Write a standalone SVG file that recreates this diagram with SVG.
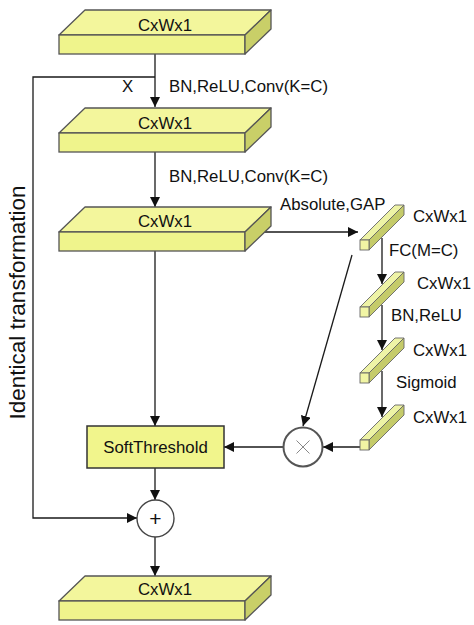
<svg xmlns="http://www.w3.org/2000/svg" width="474" height="625" viewBox="0 0 474 625">
<style>
text{font-family:"Liberation Sans",Arial,sans-serif;fill:#111;font-size:16.8px}
.mid{text-anchor:middle}
.top{fill:#f3f69c;stroke:#555;stroke-width:1.3;stroke-linejoin:round}
.front{fill:#eff48c;stroke:#555;stroke-width:1.3}
.side{fill:#c9cf68;stroke:#555;stroke-width:1.3;stroke-linejoin:round}
.btop{fill:#eef3a6;stroke:#666;stroke-width:0.9;stroke-linejoin:round}
.bfront{fill:#f1f5a4;stroke:#666;stroke-width:0.9}
.bside{fill:#c5cb6a;stroke:#666;stroke-width:0.9;stroke-linejoin:round}
.ln{fill:none;stroke:#1a1a1a;stroke-width:1.3}
.arr{marker-end:url(#ah)}
</style>
<defs>
<marker id="ah" markerUnits="userSpaceOnUse" markerWidth="11" markerHeight="10" refX="10" refY="5" orient="auto">
<path d="M0,0 L10,5 L0,10 z" fill="#111"/>
</marker>
<g id="blk">
<polygon class="top" points="59,25 85,0 271,0 245,25"/>
<rect class="front" x="59" y="25" width="186" height="19"/>
<polygon class="side" points="245,25 271,0 271,19 245,44"/>
</g>
<g id="bar">
<polygon class="btop" points="360,0 395,-35 404,-35 369,0"/>
<polygon class="bside" points="369,0 404,-35 404,-25 369,10"/>
<rect class="bfront" x="360" y="0" width="9" height="10"/>
</g>
</defs>
<rect width="474" height="625" fill="#fff"/>

<g id="connectors">
<line class="ln arr" x1="155" y1="54" x2="155" y2="107"/>
<polyline class="ln arr" points="155,77 33,77 33,518 137,518"/>
<line class="ln arr" x1="155" y1="152" x2="155" y2="207"/>
<line class="ln arr" x1="155" y1="251" x2="155" y2="426"/>
<line class="ln arr" x1="264" y1="232" x2="358" y2="232"/>
<line class="ln arr" x1="382" y1="238" x2="382" y2="284"/>
<line class="ln arr" x1="382" y1="305" x2="382" y2="350"/>
<line class="ln arr" x1="382" y1="371" x2="382" y2="417"/>
<line class="ln arr" x1="352" y1="255" x2="303" y2="426"/>
<line class="ln arr" x1="360" y1="447" x2="323" y2="447"/>
<line class="ln arr" x1="283" y1="447" x2="224" y2="447"/>
<line class="ln arr" x1="155" y1="468" x2="155" y2="500"/>
<line class="ln arr" x1="155" y1="537" x2="155" y2="576"/>
</g>

<g id="block1"><use href="#blk" transform="translate(0,10)"/><text class="mid" x="165" y="31">CxWx1</text></g>
<g id="block2"><use href="#blk" transform="translate(0,108)"/><text class="mid" x="165" y="129">CxWx1</text></g>
<g id="block3"><use href="#blk" transform="translate(0,207)"/><text class="mid" x="165" y="227">CxWx1</text></g>
<g id="block4"><use href="#blk" transform="translate(0,576)"/><text class="mid" x="165" y="595">CxWx1</text></g>

<g id="bar1"><use href="#bar" transform="translate(0,240)"/><text x="413" y="222">CxWx1</text></g>
<g id="bar2"><use href="#bar" transform="translate(0,307)"/><text x="417" y="289">CxWx1</text></g>
<g id="bar3"><use href="#bar" transform="translate(0,373)"/><text x="413" y="356">CxWx1</text></g>
<g id="bar4"><use href="#bar" transform="translate(0,440)"/><text x="413" y="423">CxWx1</text></g>

<g id="softthreshold">
<rect x="87" y="426" width="137" height="42" fill="#f1f58c" stroke="#333" stroke-width="1.5"/>
<text class="mid" x="155.5" y="453">SoftThreshold</text>
</g>

<g id="multiply">
<circle cx="303" cy="447" r="19.5" fill="#fff" stroke="#555" stroke-width="2"/>
<line x1="296.5" y1="440.5" x2="309.5" y2="453.5" stroke="#888" stroke-width="1"/>
<line x1="309.5" y1="440.5" x2="296.5" y2="453.5" stroke="#888" stroke-width="1"/>
</g>

<g id="add">
<circle cx="155.5" cy="518.5" r="18.5" fill="#fff" stroke="#444" stroke-width="1.4"/>
<text class="mid" x="155.5" y="525.5" style="font-size:21px">+</text>
</g>

<g id="labels">
<text x="122" y="92">X</text>
<text x="169" y="92">BN,ReLU,Conv(K=C)</text>
<text x="169" y="182">BN,ReLU,Conv(K=C)</text>
<text x="280" y="210">Absolute,GAP</text>
<text x="389" y="256">FC(M=C)</text>
<text x="391" y="321">BN,ReLU</text>
<text x="396" y="388">Sigmoid</text>
<text class="mid" transform="translate(25,302.5) rotate(-90)" style="font-size:22.5px">Identical transformation</text>
</g>
</svg>
